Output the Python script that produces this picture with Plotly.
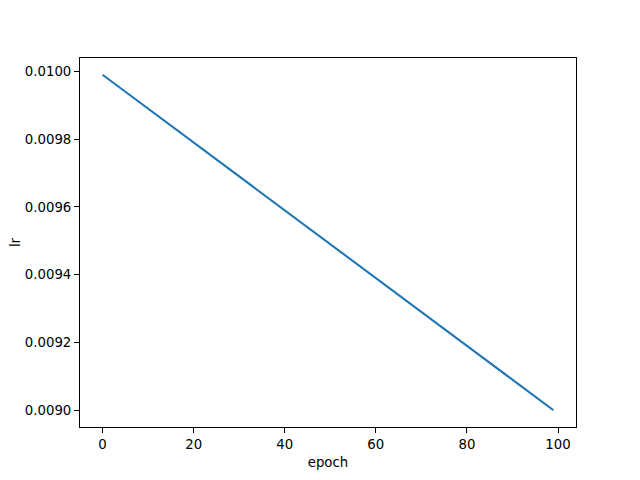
import plotly.graph_objects as go

# learning rate schedule (straight line)
epochs = [0, 99]
lr = [0.00999, 0.0090]

x_ticks = [0, 20, 40, 60, 80, 100]
y_ticks = [0.0090, 0.0092, 0.0094, 0.0096, 0.0098, 0.0100]

fig = go.Figure(
    go.Scatter(
        x=epochs,
        y=lr,
        mode='lines',
        line=dict(color='#1f77b4', width=2.1),
        showlegend=False,
    )
)

axis_style = dict(
    showline=True,
    linecolor='black',
    linewidth=1,
    mirror=True,
    showgrid=False,
    zeroline=False,
    automargin=False,
    ticks='outside',
    ticklen=5,
    tickwidth=1,
    tickcolor='black',
    tickfont=dict(family='DejaVu Sans', size=13.3, color='black'),
)

# the page body adds an 8px offset, so margins are trimmed to match
fig.update_layout(
    width=640,
    height=480,
    paper_bgcolor='white',
    plot_bgcolor='white',
    margin=dict(l=72, r=72, t=50, b=61),
    font=dict(family='DejaVu Sans', size=13.3, color='black'),
    xaxis=dict(
        range=[-4.95, 103.95],
        tickvals=x_ticks,
        ticktext=[str(v) for v in x_ticks],
        title=dict(text='epoch', standoff=6,
                   font=dict(family='DejaVu Sans', size=13.3, color='black')),
        **axis_style,
    ),
    yaxis=dict(
        range=[0.0089505, 0.0100395],
        tickvals=y_ticks,
        ticktext=[f'{v:.4f}' for v in y_ticks],
        title=dict(text='lr', standoff=16,
                   font=dict(family='DejaVu Sans', size=13.3, color='black')),
        **axis_style,
    ),
)

fig.write_html("out.html")
